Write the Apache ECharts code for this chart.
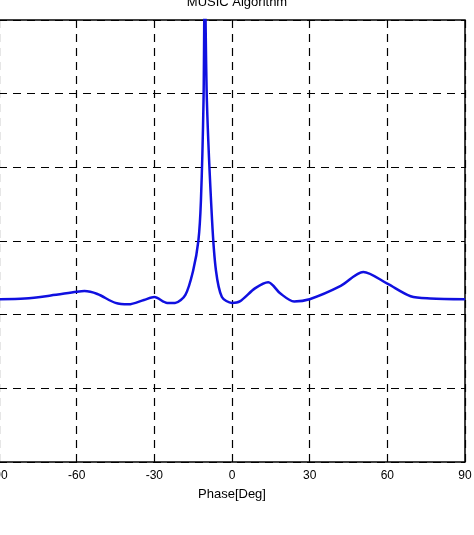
<!DOCTYPE html>
<html><head><meta charset="utf-8">
<script src="https://cdn.jsdelivr.net/npm/echarts@6/dist/echarts.min.js"></script>
<style>html,body{margin:0;padding:0;background:#fff}#c{width:474px;height:535px}</style>
</head><body><div id="c"></div>
<script>
const phaseDeg = [-90,-80,-70,-60,-57,-52,-45,-40,-34,-30,-25,-22,-18,-15,-13,-12,-11,-10.5,-9.7,-7.7,-6.2,-3.9,0,3,9,14,18.6,24,30,42,50.7,60,69,76.6,90];
const spectrum = [22.1,22.2,22.6,23.1,23.2,22.8,21.6,21.4,22.0,22.4,21.6,21.6,22.7,26,30,35.5,49,66,49,32.8,26,22.4,21.6,21.8,23.6,24.4,22.9,21.8,22.1,23.9,25.8,24.2,22.5,22.2,22.1];
const xTicks = [-90,-60,-30,0,30,60,90];
const chart = echarts.init(document.getElementById('c'));
const dash = {type:[8,6], color:'#000', width:1.2};
chart.setOption({
  animation:false,
  title:{text:'MUSIC Algorithm',left:232,textAlign:'center',top:-9,textStyle:{fontFamily:'Liberation Sans',fontSize:13,fontWeight:'normal',color:'#000'}},
  grid:{left:-1,right:9,top:20,bottom:73,show:true,borderColor:'#000',borderWidth:1.5,containLabel:false,outerBoundsMode:'none'},
  xAxis:{type:'value',min:-90,max:90,interval:30,
    name:'Phase[Deg]',nameLocation:'middle',nameGap:26,
    nameTextStyle:{fontFamily:'Liberation Sans',fontSize:13,color:'#000'},
    axisLine:{show:false},axisTick:{show:false},
    axisLabel:{fontFamily:'Liberation Sans',fontSize:12,color:'#000',margin:8,
      formatter:v=>xTicks.includes(v)?String(v):''},
    splitLine:{show:true,lineStyle:dash}},
  yAxis:{type:'value',min:0,max:60,interval:10,
    axisLine:{show:false},axisTick:{show:false},axisLabel:{show:false},
    splitLine:{show:true,lineStyle:dash}},
  series:[{type:'line',data:phaseDeg.map((x,i)=>[x,spectrum[i]]),smooth:0.3,showSymbol:false,clip:true,
    lineStyle:{color:'#1010e0',width:2.5}}]
});
</script></body></html>
